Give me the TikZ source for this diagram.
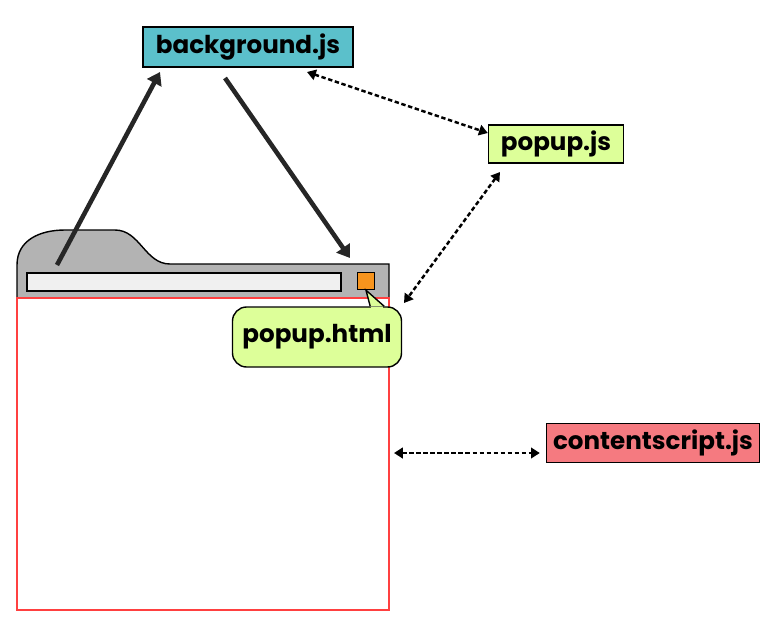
\documentclass[tikz,border=0pt]{standalone}
\usepackage{fontspec}
\setmainfont{Poppins}
\usetikzlibrary{arrows.meta,positioning,calc}
\definecolor{bgcyan}{HTML}{5BC0CB}
\definecolor{popgreen}{HTML}{DDFF99}
\definecolor{csred}{HTML}{F57A80}
\definecolor{tabgray}{HTML}{B3B3B3}
\definecolor{btnorange}{HTML}{F7941D}
\begin{document}
\begin{tikzpicture}[x=0.02cm,y=-0.02cm,
	file/.style={draw=black, line width=0.8pt, inner sep=3pt, font=\bfseries\fontsize{14pt}{16pt}\selectfont},
	call/.style={line width=2.6pt, draw=black!85, -{Triangle[length=7pt,width=9pt]}},
	msg/.style={line width=1.4pt, dash pattern=on 2.5pt off 1.5pt, {Triangle[length=5pt,width=6pt]}-{Triangle[length=5pt,width=6pt]}}]
	\useasboundingbox (0,0) rectangle (776,632);
	
	% browser window
	\draw[fill=tabgray, line width=0.8pt] (17,298) -- (17,265) .. controls (17,240) and (40,230) .. (65,230)
		-- (115,230) .. controls (140,230) and (145,264) .. (170,264) -- (389,264) -- (389,298) -- cycle;
	\draw[red!75, line width=0.8pt] (17,298) rectangle (389,610);
	\node[draw, line width=0.8pt, fill=black!6, minimum width=314*0.02cm, minimum height=18*0.02cm, inner sep=0] (addr) at (184,282) {};
	\node[draw, line width=0.8pt, fill=btnorange, minimum size=17*0.02cm, inner sep=0] (btn) at (366,281) {};
	
	% popup callout
	\node[file, fill=popgreen, rounded corners=8pt, minimum width=169*0.02cm, minimum height=60*0.02cm] (html) at (317,337) {popup.html};
	\draw[fill=popgreen, line width=0.8pt] ($(html.north east)+(-32,0)$) -- (btn.south) -- ($(html.north east)+(-18,0)$);
	\fill[popgreen] ($(html.north east)+(-31,1)$) rectangle ($(html.north east)+(-19,4)$);
	
	% scripts
	\node[file, fill=bgcyan, minimum width=210*0.02cm, minimum height=40*0.02cm] (bg) at (248,47) {background.js};
	\node[file, fill=popgreen, minimum width=135*0.02cm, minimum height=38*0.02cm] (pop) at (556,144) {popup.js};
	\node[file, fill=csred, minimum width=213*0.02cm, minimum height=39*0.02cm] (cs) at (653,443) {contentscript.js};
	
	\coordinate (tab) at (57,265);
	\coordinate (bar) at (350,258);
	\coordinate (win) at (404,303);
	\coordinate (page) at (394,453);
	
	\draw[call] (tab) -- (160,72);
	\draw[call] (225,78) -- (bar);
	\draw[msg] (307,72) -- (pop.west|-0,133);
	\draw[msg] (500,172) -- (win);
	\draw[msg] (page) -- ($(cs.west|-page)+(-6,0)$);
\end{tikzpicture}
\end{document}
